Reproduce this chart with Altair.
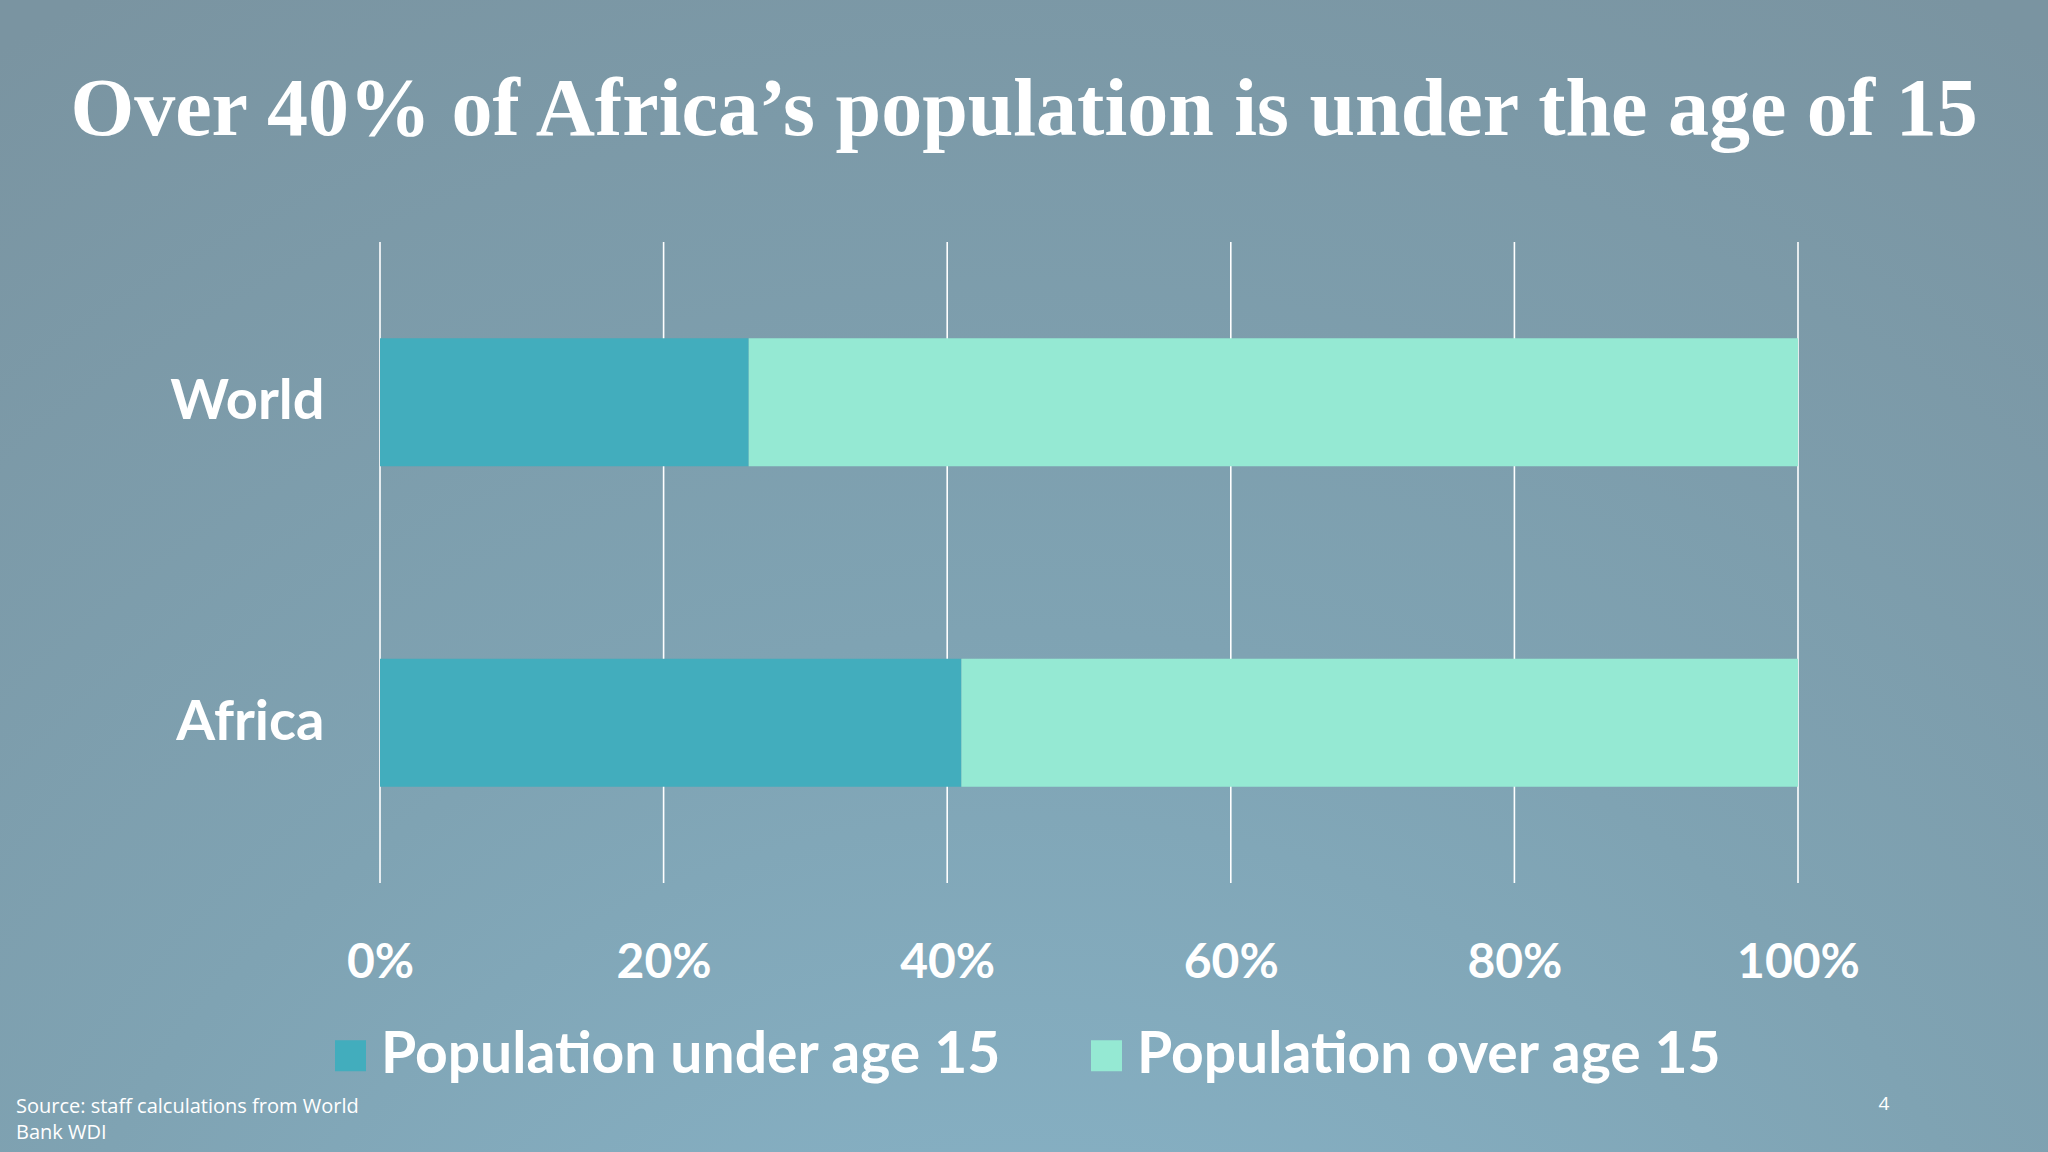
import altair as alt
import pandas as pd

# Share of population under / over age 15 (percent)
regions = ["World", "Africa"]
under_15 = [26, 41]
over_15 = [74, 59]
series = ["Population under age 15", "Population over age 15"]
series_colors = ["#42adbd", "#95e9d3"]
tick_values = [0, 20, 40, 60, 80, 100]

title_text = "Over 40% of Africa\u2019s population is under the age of 15"
source_lines = ["Source: staff calculations from World", "Bank WDI"]
page_number = "4"

rows = []
for r, u, o in zip(regions, under_15, over_15):
    rows.append({"region": r, "group": series[0], "share": u, "order": 0})
    rows.append({"region": r, "group": series[1], "share": o, "order": 1})
df = pd.DataFrame(rows)

PLOT_W, PLOT_H = 1418, 641
PAD_L, PAD_T = 380, 242
CANVAS_W, CANVAS_H = 2048, 1152

one_row = alt.Data(values=[{}])

# slide backdrop: grey-blue with a lighter glow towards the bottom
backdrop = alt.Chart(one_row).mark_rect(
    fill=alt.RadialGradient(
        gradient="radial",
        stops=[
            alt.GradientStop(offset=0, color="#8bbad0"),
            alt.GradientStop(offset=0.55, color="#7fa3b3"),
            alt.GradientStop(offset=1, color="#7a94a1"),
        ],
        x1=0.5, y1=1.05, r1=0,
        x2=0.5, y2=1.05, r2=0.95,
    )
).encode(
    x=alt.value(-PAD_L), x2=alt.value(CANVAS_W - PAD_L),
    y=alt.value(-PAD_T), y2=alt.value(CANVAS_H - PAD_T),
)

x_scale = alt.Scale(domain=[0, 100], nice=False, zero=True)
x_axis = alt.Axis(
    title=None, domain=False, ticks=False, tickSize=0, grid=False,
    values=tick_values, labelExpr="datum.value + '%'",
    labelFont="Lato", labelFontWeight="bold", labelFontSize=48,
    labelColor="white", labelBaseline="middle", labelPadding=80,
    labelFlush=False, zindex=1,
)

grid = alt.Chart(pd.DataFrame({"tick": tick_values})).mark_rule(
    color="white", strokeWidth=1.6
).encode(x=alt.X("tick:Q", scale=x_scale, axis=x_axis))

bars = alt.Chart(df).mark_bar().encode(
    y=alt.Y(
        "region:N",
        sort=regions,
        scale=alt.Scale(paddingInner=0.6, paddingOuter=0.3),
        axis=alt.Axis(
            title=None, domain=False, ticks=False, grid=False,
            labelFont="Lato", labelFontWeight="bold", labelFontSize=56,
            labelColor="white", labelPadding=56, zindex=1,
        ),
    ),
    x=alt.X("share:Q", stack="zero", scale=x_scale, axis=x_axis),
    color=alt.Color(
        "group:N",
        sort=series,
        scale=alt.Scale(domain=series, range=series_colors),
        legend=alt.Legend(
            title=None, orient="none", direction="horizontal",
            legendX=-58, legendY=785,
            symbolType="square", symbolSize=961, symbolStrokeWidth=0,
            symbolOpacity=1,
            labelFont="Lato", labelFontWeight="bold", labelFontSize=57,
            labelColor="white", labelOffset=2, labelLimit=800,
            columnPadding=76, zindex=1,
        ),
    ),
    order=alt.Order("order:Q"),
)

title = alt.Chart(one_row).mark_text(
    text=title_text, font="Liberation Serif", fontWeight="bold",
    fontSize=82, color="white", align="center", baseline="middle",
).encode(x=alt.value(CANVAS_W / 2 - PAD_L), y=alt.value(110 - PAD_T))

source = alt.Chart(one_row).mark_text(
    text=source_lines, font="Open Sans", fontSize=20, color="white",
    align="left", baseline="middle", lineHeight=26,
).encode(x=alt.value(16 - PAD_L), y=alt.value(1107 - PAD_T))

page = alt.Chart(one_row).mark_text(
    text=page_number, font="Open Sans", fontSize=19, color="white",
    align="center", baseline="middle",
).encode(x=alt.value(1884 - PAD_L), y=alt.value(1104 - PAD_T))

chart = alt.layer(backdrop, grid, bars, title, source, page).properties(
    width=PLOT_W,
    height=PLOT_H,
    autosize=alt.AutoSizeParams(type="none"),
    padding={"left": PAD_L, "top": PAD_T,
             "right": CANVAS_W - PAD_L - PLOT_W,
             "bottom": CANVAS_H - PAD_T - PLOT_H},
    background="#7b96a3",
).configure_view(stroke=None)

chart.save("out.html", embed_options={"renderer": "svg", "actions": False})
